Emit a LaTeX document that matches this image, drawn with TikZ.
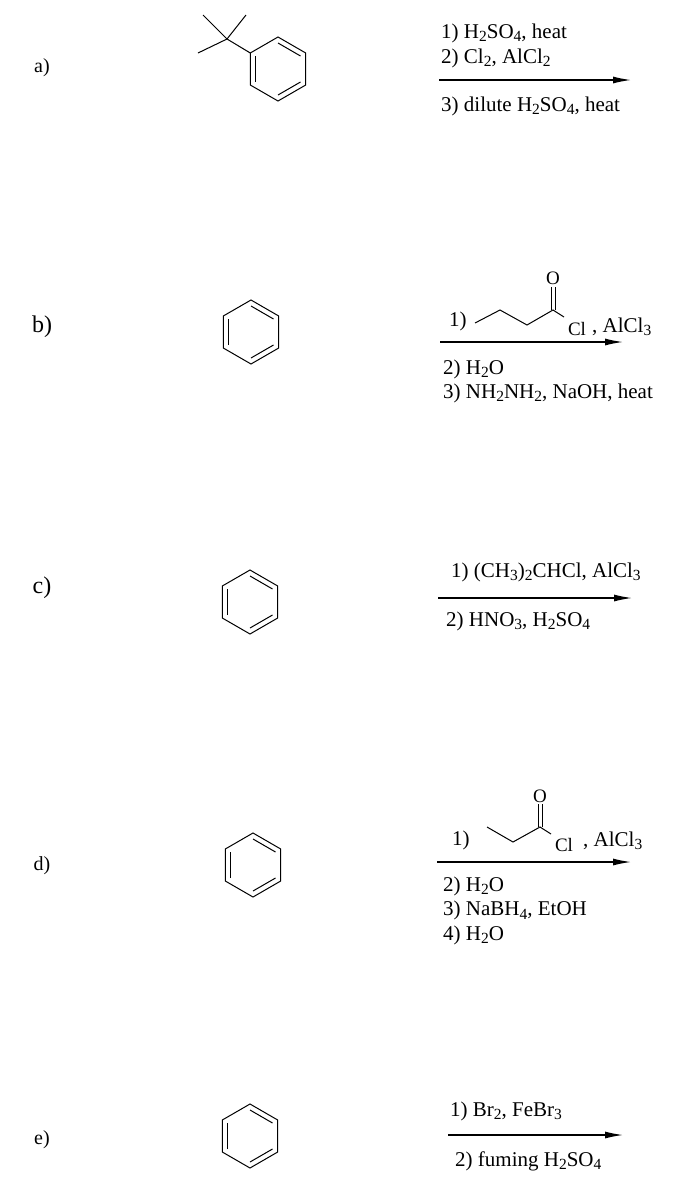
\documentclass[tikz,border=0pt]{standalone}
\usepackage{fontspec}
\setmainfont{Liberation Serif}
\usetikzlibrary{arrows.meta,calc}
\newcommand{\lsub}[1]{\raisebox{-0.18em}{\fontsize{15.5}{16}\selectfont #1}}
\begin{document}
\begin{tikzpicture}[x=1pt,y=-1pt,
  bond/.style={line width=1pt},
  rx/.style={line width=1.3pt,-{Latex[length=18pt,width=7pt]}},
  txt/.style={anchor=base west,inner sep=0pt,font=\fontsize{21}{23}\selectfont},
  lab/.style={inner sep=0pt,font=\fontsize{20}{22}\selectfont},
  labb/.style={inner sep=0pt,font=\fontsize{24}{26}\selectfont},
  atom/.style={inner sep=0pt,font=\fontsize{19}{20}\selectfont}]
\useasboundingbox (0,0) rectangle (678,1203);
\newcommand{\benz}[3]{% name, x, y
  \coordinate (#1) at (#2,#3);
  \draw[bond] (#1)+(90:32) -- +(150:32) -- +(210:32) -- +(270:32) -- +(330:32) -- +(30:32) -- cycle;
  \draw[bond] ($(#1)+(150:26)$) -- ($(#1)+(210:26)$);
  \draw[bond] ($(#1)+(30:26)$) -- ($(#1)+(90:26)$);
  \draw[bond] ($(#1)+(270:26)$) -- ($(#1)+(330:26)$);
}
% a
\node[lab] (la) at (42,68) {a)};
\benz{ba}{278}{69}
\coordinate (q) at (227,39);
\draw[bond] ($(ba)+(210:32)$) -- (q);
\draw[bond] (q) -- (203,15);
\draw[bond] (q) -- (246,15);
\draw[bond] (q) -- (198,53);
\coordinate (a1) at (439,80); \coordinate (a2) at (631,80);
\draw[rx] (a1) -- (a2);
\node[txt] at (441,38) {1) H\lsub{2}SO\lsub{4}, heat};
\node[txt] at (441,63) {2) Cl\lsub{2}, AlCl\lsub{2}};
\node[txt] at (441,111) {3) dilute H\lsub{2}SO\lsub{4}, heat};
% b
\node[labb] (lb) at (42,327) {b)};
\benz{bb}{251}{332}
\coordinate (b1) at (440,342); \coordinate (b2) at (623,342);
\draw[rx] (b1) -- (b2);
\node[txt] at (449,326) {1)};
\draw[bond] (475,323) -- (500,310) -- (527,325) -- (553,310) -- (564,317);
\draw[bond] (551,310) -- (551,287); \draw[bond] (555,310) -- (555,287);
\node[atom] (ob) at (553,278) {O};
\node[atom] (clb) at (577,329) {Cl};
\node[txt] at (592,332) {, AlCl\lsub{3}};
\node[txt] at (443,374) {2) H\lsub{2}O};
\node[txt] at (443,398) {3) NH\lsub{2}NH\lsub{2}, NaOH, heat};
% c
\node[labb] (lc) at (42,588) {c)};
\benz{bc}{250}{602}
\coordinate (c1) at (438,598); \coordinate (c2) at (632,598);
\draw[rx] (c1) -- (c2);
\node[txt] at (451,577) {1) (CH\lsub{3})\lsub{2}CHCl, AlCl\lsub{3}};
\node[txt] at (446,626) {2) HNO\lsub{3}, H\lsub{2}SO\lsub{4}};
% d
\node[lab] (ld) at (42,866) {d)};
\benz{bd}{253}{865}
\coordinate (d1) at (437,862); \coordinate (d2) at (631,862);
\draw[rx] (d1) -- (d2);
\node[txt] at (452,845) {1)};
\draw[bond] (487,827) -- (513,842) -- (540,827) -- (551,834);
\draw[bond] (538,827) -- (538,804); \draw[bond] (542,827) -- (542,804);
\node[atom] (od) at (540,796) {O};
\node[atom] (cld) at (564,845) {Cl};
\node[txt] at (583,846) {, AlCl\lsub{3}};
\node[txt] at (443,891) {2) H\lsub{2}O};
\node[txt] at (443,915.5) {3) NaBH\lsub{4}, EtOH};
\node[txt] at (443,940) {4) H\lsub{2}O};
% e
\node[lab] (le) at (42,1140) {e)};
\benz{be}{250}{1136}
\coordinate (e1) at (448,1135); \coordinate (e2) at (623,1135);
\draw[rx] (e1) -- (e2);
\node[txt] at (450,1116) {1) Br\lsub{2}, FeBr\lsub{3}};
\node[txt] at (455,1166) {2) fuming H\lsub{2}SO\lsub{4}};
\end{tikzpicture}
\end{document}
